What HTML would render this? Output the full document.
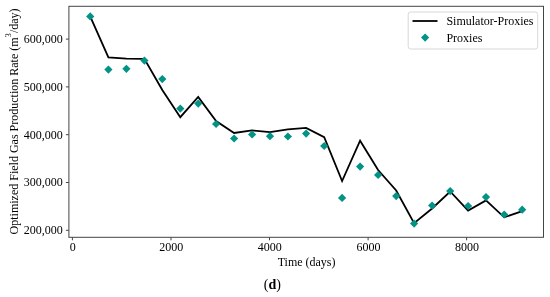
<!DOCTYPE html>
<html lang="en"><head><meta charset="utf-8"><title>Optimized Field Gas Production Rate</title>
<style>
html,body{margin:0;padding:0;background:#fff;}
body{width:550px;height:297px;overflow:hidden;}
svg{display:block;}
text{font-family:"Liberation Serif","Times New Roman",serif;fill:#000;}
.tk{font-size:12px;}
.lb{font-size:12px;}
</style></head><body>
<svg width="550" height="297" viewBox="0 0 550 297">
<rect width="550" height="297" fill="#fff"/>
<rect x="68.9" y="6.3" width="474.6" height="231.0" fill="none" stroke="#444" stroke-width="1"/>
<g stroke="#444" stroke-width="1">
<line x1="72.4" y1="237.3" x2="72.4" y2="240.3"/>
<line x1="171.0" y1="237.3" x2="171.0" y2="240.3"/>
<line x1="269.5" y1="237.3" x2="269.5" y2="240.3"/>
<line x1="368.1" y1="237.3" x2="368.1" y2="240.3"/>
<line x1="466.6" y1="237.3" x2="466.6" y2="240.3"/>
<line x1="65.9" y1="230.3" x2="68.9" y2="230.3"/>
<line x1="65.9" y1="182.5" x2="68.9" y2="182.5"/>
<line x1="65.9" y1="134.7" x2="68.9" y2="134.7"/>
<line x1="65.9" y1="86.9" x2="68.9" y2="86.9"/>
<line x1="65.9" y1="39.1" x2="68.9" y2="39.1"/>
</g>
<g class="tk" text-anchor="middle">
<text x="72.7" y="251">0</text>
<text x="171.3" y="251">2000</text>
<text x="269.8" y="251">4000</text>
<text x="368.4" y="251">6000</text>
<text x="466.9" y="251">8000</text>
</g>
<g class="tk" text-anchor="end">
<text x="62.8" y="234.2">200,000</text>
<text x="62.8" y="186.4">300,000</text>
<text x="62.8" y="138.6">400,000</text>
<text x="62.8" y="90.8">500,000</text>
<text x="62.8" y="43.0">600,000</text>
</g>
<polyline points="90.2,16.4 108.4,57.4 126.4,58.6 144.4,58.8 162.3,90.0 180.3,117.2 198.2,97.0 216.1,121.0 234.1,133.0 252.1,130.4 270.0,132.2 287.9,129.4 306.1,127.9 324.2,137.2 342.1,181.0 360.1,140.7 378.1,170.0 396.2,190.5 414.1,223.2 432.1,208.5 450.2,191.5 468.1,210.6 486.0,200.4 504.2,217.3 522.2,211.2" fill="none" stroke="#000" stroke-width="1.8" stroke-linejoin="miter" stroke-linecap="square"/>
<g fill="#029386">
<path d="M90.2 12.30L94.30 16.4L90.2 20.50L86.10 16.4Z"/>
<path d="M108.4 65.50L112.50 69.6L108.4 73.70L104.30 69.6Z"/>
<path d="M126.4 64.70L130.50 68.8L126.4 72.90L122.30 68.8Z"/>
<path d="M144.4 56.50L148.50 60.6L144.4 64.70L140.30 60.6Z"/>
<path d="M162.3 75.00L166.40 79.1L162.3 83.20L158.20 79.1Z"/>
<path d="M180.3 104.50L184.40 108.6L180.3 112.70L176.20 108.6Z"/>
<path d="M198.2 99.50L202.30 103.6L198.2 107.70L194.10 103.6Z"/>
<path d="M216.1 119.90L220.20 124.0L216.1 128.10L212.00 124.0Z"/>
<path d="M234.1 134.40L238.20 138.5L234.1 142.60L230.00 138.5Z"/>
<path d="M252.1 130.40L256.20 134.5L252.1 138.60L248.00 134.5Z"/>
<path d="M270.0 132.10L274.10 136.2L270.0 140.30L265.90 136.2Z"/>
<path d="M287.9 132.40L292.00 136.5L287.9 140.60L283.80 136.5Z"/>
<path d="M306.1 129.50L310.20 133.6L306.1 137.70L302.00 133.6Z"/>
<path d="M324.2 141.90L328.30 146.0L324.2 150.10L320.10 146.0Z"/>
<path d="M342.1 193.80L346.20 197.9L342.1 202.00L338.00 197.9Z"/>
<path d="M360.1 162.50L364.20 166.6L360.1 170.70L356.00 166.6Z"/>
<path d="M378.1 170.90L382.20 175.0L378.1 179.10L374.00 175.0Z"/>
<path d="M396.2 192.00L400.30 196.1L396.2 200.20L392.10 196.1Z"/>
<path d="M414.1 219.50L418.20 223.6L414.1 227.70L410.00 223.6Z"/>
<path d="M432.1 201.40L436.20 205.5L432.1 209.60L428.00 205.5Z"/>
<path d="M450.2 187.00L454.30 191.1L450.2 195.20L446.10 191.1Z"/>
<path d="M468.1 201.90L472.20 206.0L468.1 210.10L464.00 206.0Z"/>
<path d="M486.0 193.00L490.10 197.1L486.0 201.20L481.90 197.1Z"/>
<path d="M504.2 210.40L508.30 214.5L504.2 218.60L500.10 214.5Z"/>
<path d="M522.2 205.60L526.30 209.7L522.2 213.80L518.10 209.7Z"/>
</g>
<rect x="408.2" y="12.0" width="129.5" height="37.0" rx="2.5" fill="#fff" fill-opacity="0.8" stroke="#d8d8d8" stroke-width="1"/>
<line x1="412.5" y1="21" x2="437.5" y2="21" stroke="#000" stroke-width="1.8"/>
<g fill="#029386"><path d="M425.1 33.50L429.20 37.6L425.1 41.70L421.00 37.6Z"/></g>
<text class="lb" x="446.4" y="25.4">Simulator-Proxies</text>
<text class="lb" x="446.4" y="42.0">Proxies</text>
<text class="lb" x="306.6" y="265.9" text-anchor="middle">Time (days)</text>
<text class="lb" transform="translate(17.7 121.4) rotate(-90)" text-anchor="middle">Optimized Field Gas Production Rate (m<tspan font-size="8" dy="-6.6" dx="0.2">3</tspan><tspan dy="6.6" dx="0.2">/day)</tspan></text>
<text x="272.4" y="289" text-anchor="middle" font-size="14">(<tspan font-weight="bold">d</tspan>)</text>
</svg></body></html>
